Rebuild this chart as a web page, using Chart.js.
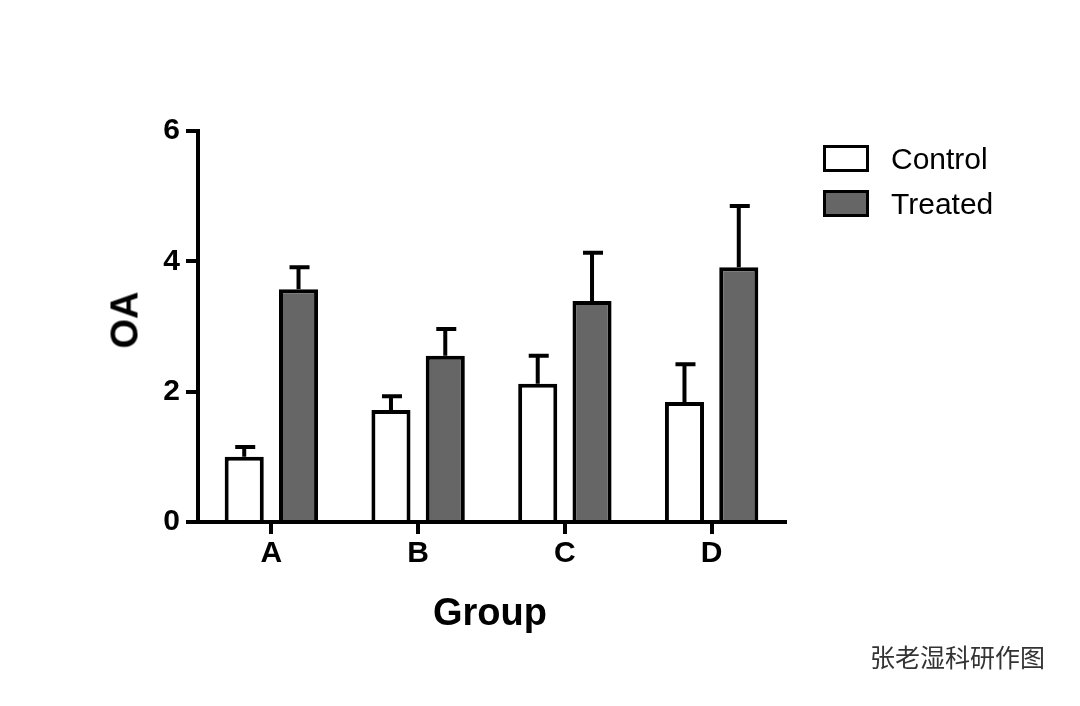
<!DOCTYPE html>
<html><head>
<meta charset="utf-8">
<title>OA by Group</title>
<script src="https://cdn.jsdelivr.net/npm/chart.js@4"></script>
<style>
  body { margin: 0; background: #fff; font-family: "Liberation Sans", Arial, sans-serif; }
  .wrap { position: relative; width: 1080px; height: 706px; }
  .ytitle { position: absolute; left: 125px; top: 320px; transform: translate(-50%, -50%) rotate(-90deg); font-size: 38px; font-weight: bold; }
  .xtitle { position: absolute; left: 490px; top: 612px; transform: translate(-50%, -50%); font-size: 38px; font-weight: bold; }
  .legend { position: absolute; left: 823px; top: 136px; font-size: 30px; }
  .legend div { display: flex; align-items: center; height: 45px; }
  .legend span.box { width: 40px; height: 21px; border: 3px solid #000; margin-right: 22px; }
  .mark { position: absolute; left: 870px; top: 638px; font-size: 25px; color: #333; font-family: "Noto Sans CJK SC", sans-serif; }
</style>
</head>
<body>
<div class="wrap">
  <canvas id="c" width="1080" height="706"></canvas>
  <div class="ytitle">OA</div>
  <div class="xtitle">Group</div>
  <div class="legend">
    <div><span class="box" style="background:#fff"></span>Control</div>
    <div><span class="box" style="background:#666"></span>Treated</div>
  </div>
  <div class="mark">张老湿科研作图</div>
</div>
<script>
const groups = ['A', 'B', 'C', 'D'];
const controlMean = [1.0, 1.72, 2.12, 1.84];
const controlErr = [0.15, 0.21, 0.43, 0.58];
const treatedMean = [3.57, 2.55, 3.39, 3.91];
const treatedErr = [0.34, 0.41, 0.74, 0.94];
const yTicks = [0, 2, 4, 6];

const errors = [controlErr, treatedErr];

const errorBars = {
  id: 'errorBars',
  afterDatasetsDraw(chart) {
    const ctx = chart.ctx;
    const y = chart.scales.y;
    ctx.save();
    ctx.strokeStyle = '#000';
    ctx.lineWidth = 4;
    chart.data.datasets.forEach((ds, i) => {
      chart.getDatasetMeta(i).data.forEach((bar, j) => {
        const top = y.getPixelForValue(ds.data[j] + errors[i][j]);
        ctx.beginPath();
        ctx.moveTo(bar.x, bar.y);
        ctx.lineTo(bar.x, top);
        ctx.moveTo(bar.x - 9, top);
        ctx.lineTo(bar.x + 11, top);
        ctx.stroke();
      });
    });
    ctx.restore();
  }
};

new Chart(document.getElementById('c'), {
  type: 'bar',
  data: {
    labels: groups,
    datasets: [
      { label: 'Control', data: controlMean, backgroundColor: '#fff', borderColor: '#000', borderWidth: 4 },
      { label: 'Treated', data: treatedMean, backgroundColor: '#666', borderColor: '#000', borderWidth: 4 }
    ]
  },
  options: {
    responsive: false,
    animation: false,
    categoryPercentage: 0.74,
    barPercentage: 0.72,
    layout: { padding: { left: 138, top: 131, right: 295, bottom: 104 } },
    plugins: { legend: { display: false }, tooltip: { enabled: false } },
    scales: {
      x: {
        afterFit(s) { s.height = 80; },
        grid: { offset: false, drawOnChartArea: false, color: '#000', lineWidth: 4, tickLength: 12 },
        border: { color: '#000', width: 4 },
        ticks: { color: '#000', font: { family: 'Liberation Sans', size: 30, weight: 'bold' }, padding: 2 }
      },
      y: {
        min: 0, max: 6,
        afterFit(s) { s.width = 60; },
        afterBuildTicks(s) { s.ticks = yTicks.map(v => ({ value: v })); },
        grid: { drawOnChartArea: false, color: '#000', lineWidth: 4, tickLength: 12 },
        border: { color: '#000', width: 4 },
        ticks: { color: '#000', font: { family: 'Liberation Sans', size: 30, weight: 'bold' }, padding: 6 }
      }
    }
  },
  plugins: [errorBars]
});
</script>
</body></html>
